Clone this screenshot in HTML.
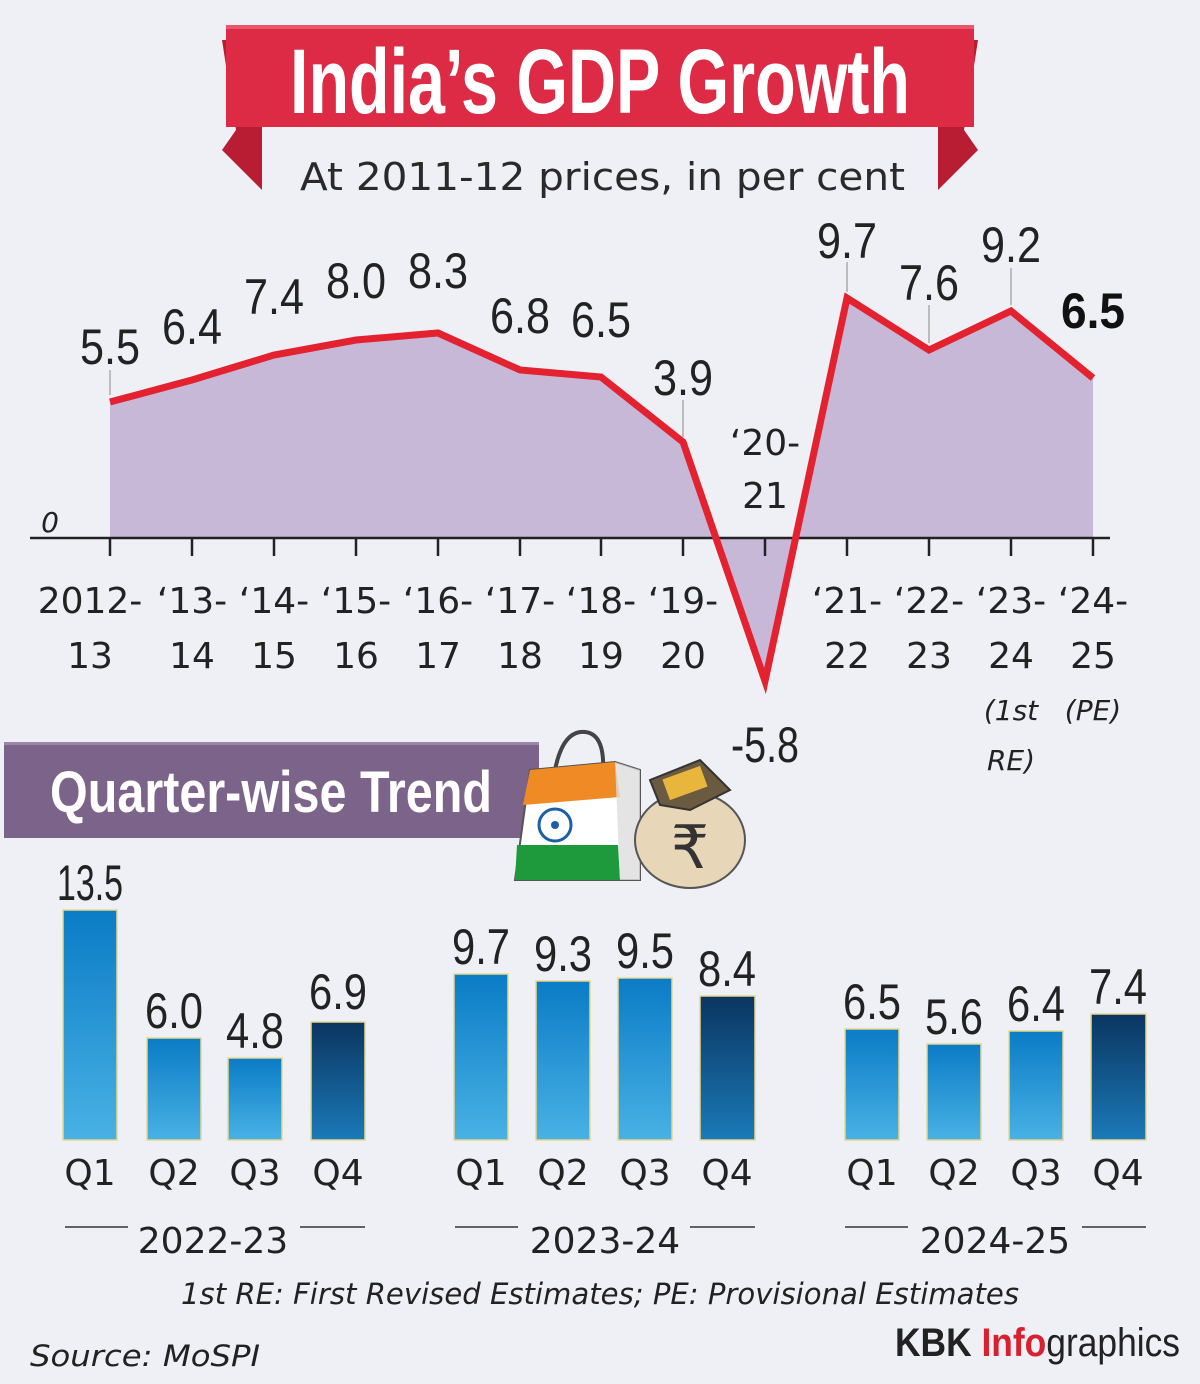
<!DOCTYPE html>
<html><head><meta charset="utf-8"><style>
html,body{margin:0;padding:0;background:#efeff6;}
svg{display:block}
.n{font-family:"Liberation Sans Narrow","Liberation Sans",sans-serif;font-weight:bold;}
.v{font-family:"Liberation Sans Narrow","Liberation Sans",sans-serif;}
.r{font-family:"DejaVu Sans","Liberation Sans",sans-serif;}
</style></head><body>
<svg width="1200" height="1384" viewBox="0 0 1200 1384" xmlns="http://www.w3.org/2000/svg">
<defs>
<linearGradient id="gb" x1="0" y1="0" x2="0" y2="1"><stop offset="0" stop-color="#0a7cc6"/><stop offset="1" stop-color="#49b1e4"/></linearGradient>
<linearGradient id="gd" x1="0" y1="0" x2="0" y2="1"><stop offset="0" stop-color="#0b3560"/><stop offset="1" stop-color="#1a7ab8"/></linearGradient>
</defs>
<rect width="1200" height="1384" fill="#efeff6"/>
<!-- title ribbon -->
<polygon points="222,40 262,40 262,190 222,150 236,130" fill="#b81d34"/>
<polygon points="978,40 938,40 938,190 978,150 964,130" fill="#b81d34"/>
<rect x="226" y="25" width="748" height="102" fill="#dd2a45"/>
<rect x="226" y="25" width="748" height="4" fill="#e8576a"/>
<text x="290" y="113" class="n" font-size="92" fill="#fff" textLength="620" lengthAdjust="spacingAndGlyphs">India’s GDP Growth</text>
<text x="300" y="190" class="r" font-size="38" fill="#2a2a2a" textLength="605" lengthAdjust="spacingAndGlyphs">At 2011-12 prices, in per cent</text>
<!-- area -->
<polygon points="110,538 110,402 192,380 274,355 356,340 438,333 520,370 601,377 683,442 765,681 847,298 929,350 1011,311 1093,378 1093,538" fill="#c6b8d6"/>
<line x1="30" y1="538" x2="1110" y2="538" stroke="#222" stroke-width="2.5"/>
<g stroke="#222" stroke-width="2.5">
<line x1="110" y1="538" x2="110" y2="556"/><line x1="192" y1="538" x2="192" y2="556"/><line x1="274" y1="538" x2="274" y2="556"/><line x1="356" y1="538" x2="356" y2="556"/><line x1="438" y1="538" x2="438" y2="556"/><line x1="520" y1="538" x2="520" y2="556"/><line x1="601" y1="538" x2="601" y2="556"/><line x1="683" y1="538" x2="683" y2="556"/><line x1="765" y1="538" x2="765" y2="556"/><line x1="847" y1="538" x2="847" y2="556"/><line x1="929" y1="538" x2="929" y2="556"/><line x1="1011" y1="538" x2="1011" y2="556"/><line x1="1093" y1="538" x2="1093" y2="556"/>
</g>
<g stroke="#aaa" stroke-width="1.5">
<line x1="110" y1="370" x2="110" y2="395"/><line x1="683" y1="400" x2="683" y2="437"/><line x1="847" y1="262" x2="847" y2="292"/><line x1="929" y1="305" x2="929" y2="343"/><line x1="1011" y1="268" x2="1011" y2="305"/>
</g>
<polyline points="110,402 192,380 274,355 356,340 438,333 520,370 601,377 683,442 765,681 847,298 929,350 1011,311 1093,378" fill="none" stroke="#e3212f" stroke-width="7" stroke-linejoin="miter"/>
<text x="50" y="532" class="r" font-size="28" font-style="italic" fill="#222" text-anchor="middle">0</text>
<g class="v" font-size="50" fill="#222" text-anchor="middle" lengthAdjust="spacingAndGlyphs">
<text x="110" y="364" textLength="60" lengthAdjust="spacingAndGlyphs">5.5</text><text x="192" y="344" textLength="60" lengthAdjust="spacingAndGlyphs">6.4</text><text x="274" y="314" textLength="60" lengthAdjust="spacingAndGlyphs">7.4</text><text x="356" y="298" textLength="60" lengthAdjust="spacingAndGlyphs">8.0</text><text x="438" y="288" textLength="60" lengthAdjust="spacingAndGlyphs">8.3</text><text x="520" y="333" textLength="60" lengthAdjust="spacingAndGlyphs">6.8</text><text x="601" y="337" textLength="60" lengthAdjust="spacingAndGlyphs">6.5</text><text x="683" y="395" textLength="60" lengthAdjust="spacingAndGlyphs">3.9</text><text x="847" y="258" textLength="60" lengthAdjust="spacingAndGlyphs">9.7</text><text x="929" y="300" textLength="60" lengthAdjust="spacingAndGlyphs">7.6</text><text x="1011" y="262" textLength="60" lengthAdjust="spacingAndGlyphs">9.2</text><text x="765" y="762" textLength="68" lengthAdjust="spacingAndGlyphs">-5.8</text>
</g>
<text x="1093" y="328" class="n" font-size="50" fill="#111" text-anchor="middle" textLength="64" lengthAdjust="spacingAndGlyphs">6.5</text>
<g class="r" font-size="36" fill="#222" text-anchor="middle">
<text x="765" y="455">‘20-</text><text x="765" y="508">21</text>
<text x="90" y="613">2012-</text><text x="90" y="668">13</text>
<text x="192" y="613">‘13-</text><text x="192" y="668">14</text>
<text x="274" y="613">‘14-</text><text x="274" y="668">15</text>
<text x="356" y="613">‘15-</text><text x="356" y="668">16</text>
<text x="438" y="613">‘16-</text><text x="438" y="668">17</text>
<text x="520" y="613">‘17-</text><text x="520" y="668">18</text>
<text x="601" y="613">‘18-</text><text x="601" y="668">19</text>
<text x="683" y="613">‘19-</text><text x="683" y="668">20</text>
<text x="847" y="613">‘21-</text><text x="847" y="668">22</text>
<text x="929" y="613">‘22-</text><text x="929" y="668">23</text>
<text x="1011" y="613">‘23-</text><text x="1011" y="668">24</text>
<text x="1093" y="613">‘24-</text><text x="1093" y="668">25</text>
</g>
<g class="r" font-size="28" font-style="italic" fill="#222" text-anchor="middle">
<text x="1011" y="720">(1st</text><text x="1011" y="770">RE)</text><text x="1093" y="720">(PE)</text>
</g>
<!-- quarter banner -->
<rect x="4" y="742" width="535" height="96" fill="#7b6389"/>
<rect x="4" y="742" width="535" height="3" fill="#9a86a6"/>
<text x="50" y="812" class="n" font-size="58" fill="#fff" textLength="442" lengthAdjust="spacingAndGlyphs">Quarter-wise Trend</text>
<!-- bag icon -->
<path d="M555,770 q8,-40 30,-38 q20,2 18,40" fill="none" stroke="#444" stroke-width="4"/>
<polygon points="530,770 615,762 640,770 640,880 515,880" fill="#fff" stroke="#555" stroke-width="2"/>
<polygon points="530,770 615,762 620,797 523,805" fill="#f08a24"/>
<polygon points="517,845 618,845 620,880 515,880" fill="#1e9a3c"/>
<polygon points="615,762 640,770 640,880 620,880" fill="#ddd" opacity=".8"/>
<circle cx="555" cy="825" r="16" fill="none" stroke="#1b5fa8" stroke-width="3"/>
<circle cx="555" cy="825" r="4" fill="#1b5fa8"/>
<!-- money bag -->
<ellipse cx="690" cy="840" rx="55" ry="48" fill="#e7d7b8" stroke="#555" stroke-width="2"/>
<polygon points="650,780 700,760 730,790 690,810 660,805" fill="#6a5a40" stroke="#333" stroke-width="2"/>
<rect x="665" y="772" width="40" height="22" fill="#e8b63d" transform="rotate(-20 685 783)"/>
<text x="690" y="868" class="r" font-size="60" fill="#333" text-anchor="middle">₹</text>
<!-- bars -->
<g stroke="#e7d88a" stroke-width="1.5">
<rect x="63" y="910" width="54" height="230" fill="url(#gb)"/>
<rect x="147" y="1038" width="54" height="102" fill="url(#gb)"/>
<rect x="228" y="1058" width="54" height="82" fill="url(#gb)"/>
<rect x="311" y="1022" width="54" height="118" fill="url(#gd)"/>
<rect x="454" y="974" width="54" height="166" fill="url(#gb)"/>
<rect x="536" y="981" width="54" height="159" fill="url(#gb)"/>
<rect x="618" y="978" width="54" height="162" fill="url(#gb)"/>
<rect x="700" y="996" width="55" height="144" fill="url(#gd)"/>
<rect x="845" y="1029" width="54" height="111" fill="url(#gb)"/>
<rect x="927" y="1044" width="54" height="96" fill="url(#gb)"/>
<rect x="1009" y="1031" width="54" height="109" fill="url(#gb)"/>
<rect x="1091" y="1014" width="55" height="126" fill="url(#gd)"/>
</g>
<g class="v" font-size="50" fill="#222" text-anchor="middle">
<text x="90" y="900" textLength="66" lengthAdjust="spacingAndGlyphs">13.5</text><text x="174" y="1028" textLength="58" lengthAdjust="spacingAndGlyphs">6.0</text><text x="255" y="1048" textLength="58" lengthAdjust="spacingAndGlyphs">4.8</text><text x="338" y="1009" textLength="58" lengthAdjust="spacingAndGlyphs">6.9</text>
<text x="481" y="964" textLength="58" lengthAdjust="spacingAndGlyphs">9.7</text><text x="563" y="971" textLength="58" lengthAdjust="spacingAndGlyphs">9.3</text><text x="645" y="968" textLength="58" lengthAdjust="spacingAndGlyphs">9.5</text><text x="727" y="986" textLength="58" lengthAdjust="spacingAndGlyphs">8.4</text>
<text x="872" y="1019" textLength="58" lengthAdjust="spacingAndGlyphs">6.5</text><text x="954" y="1034" textLength="58" lengthAdjust="spacingAndGlyphs">5.6</text><text x="1036" y="1021" textLength="58" lengthAdjust="spacingAndGlyphs">6.4</text><text x="1118" y="1004" textLength="58" lengthAdjust="spacingAndGlyphs">7.4</text>
</g>
<g class="r" font-size="36" fill="#222" text-anchor="middle">
<text x="90" y="1185">Q1</text><text x="174" y="1185">Q2</text><text x="255" y="1185">Q3</text><text x="338" y="1185">Q4</text>
<text x="481" y="1185">Q1</text><text x="563" y="1185">Q2</text><text x="645" y="1185">Q3</text><text x="727" y="1185">Q4</text>
<text x="872" y="1185">Q1</text><text x="954" y="1185">Q2</text><text x="1036" y="1185">Q3</text><text x="1118" y="1185">Q4</text>
<text x="213" y="1253">2022-23</text><text x="605" y="1253">2023-24</text><text x="995" y="1253">2024-25</text>
</g>
<g stroke="#333" stroke-width="1.5">
<line x1="65" y1="1227" x2="128" y2="1227"/><line x1="300" y1="1227" x2="365" y2="1227"/>
<line x1="455" y1="1227" x2="518" y2="1227"/><line x1="690" y1="1227" x2="755" y2="1227"/>
<line x1="845" y1="1227" x2="908" y2="1227"/><line x1="1082" y1="1227" x2="1146" y2="1227"/>
</g>
<text x="600" y="1304" class="r" font-size="29" font-style="italic" fill="#222" text-anchor="middle" textLength="838" lengthAdjust="spacingAndGlyphs">1st RE: First Revised Estimates; PE: Provisional Estimates</text>
<text x="30" y="1366" class="r" font-size="29" font-style="italic" fill="#222" textLength="230" lengthAdjust="spacingAndGlyphs">Source: MoSPI</text>
<text x="895" y="1356" class="n" font-size="40" fill="#222" textLength="285" lengthAdjust="spacingAndGlyphs">KBK <tspan fill="#d8202f">Info</tspan><tspan style="font-weight:normal">graphics</tspan></text>
</svg>
</body></html>
